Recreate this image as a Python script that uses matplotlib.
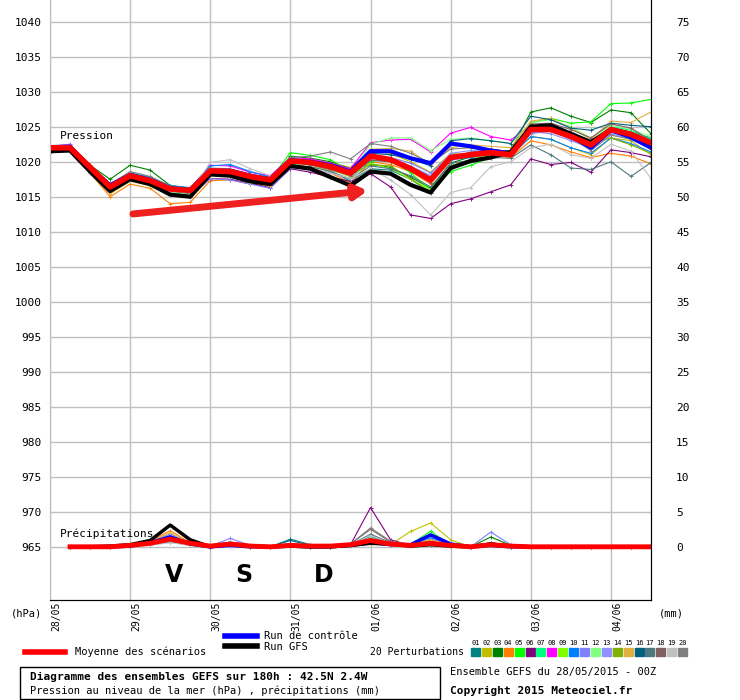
import matplotlib.pyplot as plt
import numpy as np
from matplotlib.patches import Rectangle

plt.rcParams['font.family'] = ['DejaVu Sans Mono']

hours = np.arange(0, 181, 6)
day_labels = ["28/05", "29/05", "30/05", "31/05", "01/06", "02/06", "03/06", "04/06"]
p_ticks = np.arange(965, 1041, 5)

mean_p = [1022.0,1022.0,1019.2,1016.4,1018.0,1017.3,1016.1,1015.9,1018.7,1018.6,1017.9,1017.4,1020.1,1019.9,1019.3,1018.4,
          1020.8,1020.3,1019.0,1017.4,1020.6,1021.0,1021.3,1021.0,1024.6,1024.6,1023.6,1022.4,1024.6,1023.9,1022.7]
control_p = [1022.0,1022.1,1019.2,1016.6,1018.1,1017.4,1016.2,1015.9,1018.7,1018.7,1018.0,1017.5,1020.2,1020.0,1019.5,1018.6,
             1021.5,1021.5,1020.5,1019.8,1022.6,1022.2,1021.6,1021.2,1024.8,1024.8,1023.7,1022.0,1024.5,1023.5,1022.0]
gfs_p = [1021.5,1021.6,1018.6,1015.8,1017.5,1016.8,1015.3,1015.0,1018.2,1018.0,1017.2,1016.8,1019.4,1019.0,1017.8,1016.6,
         1018.6,1018.3,1016.7,1015.6,1019.1,1020.1,1020.6,1021.4,1025.0,1025.2,1024.0,1022.8,1024.6,1024.0,1022.6]

pert_colors = ["#008080", "#c0c000", "#008000", "#ff8000", "#00ff00", "#800080", "#00ff80", "#ff00ff", "#80ff00", "#0080ff",
               "#8080ff", "#80ff80", "#9090ff", "#80b000", "#e0b040", "#006080", "#507880", "#806060", "#c0c0c0", "#808080"]

pert_p = [
    [1021.6,1021.9,1018.8,1016.0,1017.6,1017.0,1015.8,1015.4,1018.3,1018.2,1017.6,1017.0,1020.2,1019.6,1018.7,1017.2,1019.0,1018.8,1017.5,1015.6,1019.4,1020.3,1020.8,1021.0,1024.2,1024.6,1023.8,1022.8,1024.9,1024.2,1023.4],
    [1021.8,1022.2,1019.6,1016.6,1018.4,1017.6,1016.3,1016.0,1018.0,1018.0,1017.2,1016.8,1019.8,1020.2,1019.8,1019.2,1021.6,1021.2,1020.0,1018.5,1021.2,1021.0,1021.5,1021.2,1023.6,1023.2,1022.0,1021.0,1023.4,1023.0,1021.0],
    [1021.9,1022.3,1019.5,1017.5,1019.5,1018.8,1016.6,1016.2,1018.4,1018.5,1017.7,1017.2,1020.8,1020.5,1020.0,1019.0,1019.6,1019.2,1017.8,1016.2,1019.8,1020.7,1021.5,1021.6,1027.1,1027.7,1026.5,1025.6,1027.4,1027.0,1024.0],
    [1021.3,1021.6,1018.4,1015.0,1016.8,1016.2,1014.0,1014.2,1017.3,1017.4,1016.8,1016.6,1019.4,1019.0,1018.4,1017.0,1020.0,1019.6,1018.6,1016.8,1020.4,1021.2,1021.0,1020.6,1023.0,1022.4,1021.4,1020.6,1021.2,1020.8,1019.7],
    [1022.0,1022.3,1019.4,1016.6,1018.2,1017.4,1016.0,1015.9,1018.8,1018.8,1018.0,1017.5,1021.3,1020.9,1020.3,1018.6,1020.0,1020.5,1018.4,1016.0,1018.6,1019.5,1020.6,1021.0,1025.6,1026.2,1025.5,1025.7,1028.3,1028.4,1028.9],
    [1021.7,1021.9,1018.9,1016.0,1017.5,1016.8,1015.4,1015.1,1017.6,1017.5,1016.9,1016.3,1019.0,1018.5,1017.8,1017.2,1018.3,1016.4,1012.4,1011.9,1014.0,1014.7,1015.7,1016.7,1020.4,1019.6,1019.9,1018.5,1021.7,1021.3,1020.7],
    [1022.1,1022.0,1019.0,1016.2,1017.9,1017.2,1016.0,1015.6,1018.9,1018.6,1018.1,1017.8,1020.5,1020.2,1019.5,1018.6,1020.6,1020.0,1018.8,1017.2,1020.4,1021.4,1021.6,1021.3,1025.0,1025.2,1024.0,1023.0,1025.0,1024.5,1023.2],
    [1022.2,1022.5,1019.4,1016.5,1018.3,1017.7,1016.4,1016.1,1019.5,1019.4,1018.5,1018.0,1020.6,1020.4,1019.8,1019.0,1022.7,1023.1,1023.2,1021.4,1024.1,1024.9,1023.6,1023.1,1025.2,1025.0,1024.2,1022.0,1024.8,1024.0,1022.6],
    [1021.8,1022.0,1019.1,1016.4,1018.0,1017.2,1016.0,1015.8,1018.5,1018.4,1017.6,1017.2,1020.2,1019.8,1019.0,1017.8,1019.8,1019.0,1017.5,1016.0,1019.0,1020.4,1021.0,1021.0,1024.6,1024.4,1023.4,1022.2,1024.4,1023.5,1022.0],
    [1022.3,1022.4,1019.4,1016.9,1018.4,1017.8,1016.6,1016.3,1019.4,1019.6,1018.6,1017.8,1020.4,1020.0,1019.6,1018.7,1020.2,1020.1,1019.2,1018.0,1020.3,1020.6,1021.1,1020.8,1023.6,1023.2,1022.0,1021.2,1023.4,1022.6,1021.4],
    [1021.6,1021.7,1018.7,1015.9,1017.3,1016.7,1015.2,1015.0,1017.6,1017.4,1016.8,1016.2,1019.1,1019.0,1018.4,1017.6,1020.4,1020.6,1019.8,1018.4,1021.0,1021.0,1021.4,1021.2,1024.0,1024.4,1023.2,1021.8,1024.2,1023.6,1022.4],
    [1021.7,1021.8,1018.8,1016.1,1017.4,1016.8,1015.6,1015.3,1018.0,1017.9,1017.0,1016.9,1019.6,1019.5,1019.0,1018.2,1022.5,1023.4,1023.4,1021.6,1023.2,1023.4,1023.0,1022.6,1025.6,1026.0,1025.0,1023.4,1025.2,1024.6,1023.6],
    [1021.9,1022.1,1019.3,1016.7,1018.1,1017.5,1016.2,1015.7,1018.6,1018.5,1017.8,1017.3,1020.0,1019.7,1019.2,1018.2,1020.9,1020.5,1019.4,1018.0,1021.2,1021.6,1021.8,1021.4,1024.3,1024.0,1023.0,1022.0,1024.0,1023.2,1021.8],
    [1021.8,1022.0,1019.0,1016.2,1017.8,1017.1,1015.9,1015.6,1018.4,1018.3,1017.5,1017.0,1019.9,1019.7,1019.1,1018.1,1019.6,1019.4,1017.6,1015.6,1019.4,1020.3,1020.7,1020.9,1024.8,1025.0,1023.8,1022.6,1023.4,1022.4,1021.2],
    [1021.5,1021.8,1018.6,1015.4,1017.2,1016.6,1015.4,1015.2,1018.0,1018.0,1017.2,1016.6,1019.4,1019.3,1018.8,1017.9,1021.8,1021.9,1021.5,1019.6,1022.0,1022.4,1022.2,1022.0,1025.8,1026.2,1024.8,1023.2,1025.8,1025.6,1027.1],
    [1022.0,1022.2,1019.3,1016.5,1018.1,1017.4,1016.2,1015.9,1018.7,1018.8,1018.0,1017.6,1020.3,1020.0,1019.4,1018.4,1021.2,1021.0,1020.4,1019.4,1023.0,1023.3,1023.0,1022.6,1026.5,1026.0,1024.8,1024.5,1025.5,1025.2,1025.0],
    [1021.7,1021.9,1019.0,1016.3,1017.9,1017.2,1016.0,1015.6,1018.2,1018.0,1017.4,1016.9,1019.5,1019.3,1018.6,1017.5,1019.4,1019.0,1018.0,1016.4,1019.8,1020.2,1020.6,1020.5,1022.4,1021.0,1019.1,1018.9,1020.0,1017.9,1019.9],
    [1022.0,1022.1,1019.2,1016.3,1018.2,1017.5,1016.1,1015.8,1018.5,1018.2,1017.6,1017.2,1019.9,1019.6,1018.9,1018.0,1020.2,1020.0,1018.8,1017.0,1020.8,1021.3,1021.8,1021.4,1025.4,1025.5,1024.6,1023.4,1025.4,1024.8,1023.0],
    [1021.4,1021.6,1018.6,1016.0,1017.4,1017.0,1015.8,1015.6,1019.9,1020.3,1019.0,1018.0,1019.4,1019.0,1018.4,1017.6,1019.0,1017.4,1015.3,1012.4,1015.6,1016.3,1019.3,1020.0,1022.0,1022.5,1021.0,1020.5,1022.5,1021.5,1017.6],
    [1022.1,1022.3,1019.4,1016.8,1018.6,1017.9,1016.5,1016.1,1019.1,1019.0,1018.2,1017.6,1020.6,1020.8,1021.4,1020.4,1022.6,1022.2,1021.2,1019.8,1021.8,1022.0,1021.6,1021.4,1024.8,1024.6,1023.4,1021.6,1023.8,1023.2,1022.2],
]

# precipitation in mm, from t=6h
mean_r = [0,0,0,0.2,0.5,1.1,0.5,0.1,0.4,0.1,0,0.2,0.1,0.1,0.3,0.9,0.4,0.2,0.5,0.2,0,0.3,0.1,0,0,0,0,0,0,0]
control_r = [0,0,0,0.1,0.6,1.4,0.4,0,0.2,0,0,0.1,0,0,0.2,0.6,0.3,0.3,1.7,0.4,0,0.2,0,0,0,0,0,0,0,0]
gfs_r = [0,0,0.1,0.3,0.9,3.1,1.0,0,0.5,0.1,0,0.1,0,0,0.2,0.5,0.4,0.1,0.3,0.1,0,0.4,0.1,0,0,0,0,0,0,0]
pert_r = [
    [0,0,0,0.2,0.6,1.5,0.5,0,0.3,0,0,1.1,0.3,0,0.2,0.8,0.4,0.2,0.4,0.1,0,0.3,0,0,0,0,0,0,0,0],
    [0,0,0,0.1,0.3,0.8,0.3,0,0.2,0,0,0.1,0,0,0.1,0.4,0.3,2.2,3.4,1.0,0,0.2,0,0,0,0,0,0,0,0],
    [0,0,0,0.2,0.4,1.0,0.4,0,0.3,0,0,0.3,0.1,0,0.2,0.7,0.3,0.3,0.9,0.2,0,1.4,0.2,0,0,0,0,0,0,0],
    [0,0,0,0.3,0.8,2.3,0.6,0,0.2,0,0,0.1,0,0,0.2,0.6,0.2,0.2,0.5,0.1,0,0.2,0,0,0,0,0,0,0,0],
    [0,0,0,0.1,0.4,0.9,0.3,0,0.3,0,0,0.2,0.1,0,0.3,1.2,0.5,0.4,2.2,0.3,0,0.6,0.1,0,0,0,0,0,0,0],
    [0,0,0,0.2,0.5,1.0,0.4,0,0.2,0,0,0.5,0.1,0,0.3,5.6,1.0,0.2,0.3,0.1,0,0.2,0,0,0,0,0,0,0,0],
    [0,0,0,0.1,0.4,1.2,0.4,0,0.3,0,0,0.2,0.1,0,0.2,0.8,0.3,0.2,0.6,0.2,0,0.3,0,0,0,0,0,0,0,0],
    [0,0,0,0.2,0.5,1.3,0.5,0,0.3,0,0,0.2,0,0,0.2,0.9,0.4,0.3,1.0,0.2,0,0.4,0,0,0,0,0,0,0,0],
    [0,0,0,0.1,0.3,0.9,0.3,0,0.2,0,0,0.1,0,0,0.3,1.3,0.4,0.2,0.8,0.2,0,0.2,0,0,0,0,0,0,0,0],
    [0,0,0,0.2,0.6,1.6,0.5,0,0.4,0,0,0.3,0.1,0,0.3,1.5,0.5,0.3,1.3,0.3,0,0.4,0.1,0,0,0,0,0,0,0],
    [0,0,0,0.3,0.7,1.8,0.6,0.1,1.2,0.2,0,0.2,0.1,0,0.2,0.7,0.3,0.2,1.1,0.3,0,2.1,0.3,0,0,0,0,0,0,0],
    [0,0,0,0.1,0.3,0.8,0.3,0,0.2,0,0,0.2,0,0,0.2,0.6,0.4,0.3,0.5,0.1,0,0.3,0,0,0,0,0,0,0,0],
    [0,0,0,0.2,0.5,1.2,0.4,0,0.3,0,0,0.1,0,0,0.2,1.0,0.4,0.2,0.7,0.2,0,0.5,0,0,0,0,0,0,0,0],
    [0,0,0,0.2,0.4,1.1,0.4,0,0.2,0,0,0.2,0,0,0.2,0.6,0.3,0.2,0.8,0.2,0,0.3,0,0,0,0,0,0,0,0],
    [0,0,0,0.3,0.8,2.0,0.6,0,0.2,0,0,0.1,0,0,0.2,0.5,0.3,0.4,1.0,0.3,0,0.2,0,0,0,0,0,0,0,0],
    [0,0,0,0.2,0.5,1.4,0.5,0,0.3,0,0,0.9,0.2,0,0.3,1.1,0.4,0.2,0.6,0.2,0,0.6,0.1,0,0,0,0,0,0,0],
    [0,0,0,0.1,0.3,0.7,0.2,0,0.2,0,0,0.2,0,0,0.3,1.8,0.6,0.3,0.4,0.1,0,0.3,0,0,0,0,0,0,0,0],
    [0,0,0,0.2,0.4,1.0,0.3,0,0.2,0,0,0.2,0,0,0.4,2.5,0.7,0.2,0.5,0.1,0,0.4,0,0,0,0,0,0,0,0],
    [0,0,0,0.1,0.2,0.6,0.2,0,0.1,0,0,0.1,0,0,0.3,1.6,0.5,0.2,0.3,0.1,0,0.2,0,0,0,0,0,0,0,0],
    [0,0,0,0.2,0.5,1.3,0.5,0,0.3,0,0,0.2,0,0,0.4,2.7,0.8,0.3,0.5,0.1,0,0.3,0,0,0,0,0,0,0,0],
]

base = 965  # 0 mm sits on 965 hPa

fig = plt.figure(figsize=(7.4, 7.0), dpi=100)
ax = fig.add_axes([50/740, 1 - 600/700, 601/740, 600/700])
ax.set_xlim(0, 180)
ax.set_ylim(957.4, 1043.1)

for h in range(0, 180, 24):
    ax.axvline(h, color="#c0c0c0", lw=1, zorder=0)
for p in p_ticks:
    ax.axhline(p, color="#c0c0c0", lw=1, zorder=0)

rh = hours[1:]
for col, pp, rr in zip(pert_colors, pert_p, pert_r):
    ax.plot(hours, pp, color=col, lw=0.8, marker="+", ms=3, mew=0.6, zorder=2)
    ax.plot(rh, base + np.array(rr), color=col, lw=0.8, marker="+", ms=3, mew=0.6, zorder=2)

ax.plot(hours, control_p, color="blue", lw=3, zorder=3)
ax.plot(hours, gfs_p, color="black", lw=3, zorder=3)
ax.plot(hours, mean_p, color="#ff0000", lw=4, zorder=4)
ax.plot(rh, base + np.array(control_r), color="blue", lw=2.5, zorder=3)
ax.plot(rh, base + np.array(gfs_r), color="black", lw=2.5, zorder=3)
ax.plot(rh, base + np.array(mean_r), color="#ff0000", lw=3.5, zorder=4)

ax.annotate("", xy=(96, 1015.9), xytext=(24, 1012.5),
            arrowprops=dict(arrowstyle="-|>,head_length=0.7,head_width=0.4", color="#ee2020", lw=5), zorder=5)

ax.text(3, 1023.7, "Pression", fontsize=8, va="center")
ax.text(3, 966.9, "Précipitations", fontsize=8, va="center")
for lab, h in zip(["V", "S", "D"], [37, 58, 82]):
    ax.text(h, 961, lab, fontsize=17, fontweight="bold", family="DejaVu Sans", ha="center", va="center")

ax.set_yticks(p_ticks)
ax.set_yticklabels([str(p) for p in p_ticks], fontsize=8)
ax.set_xticks([])
ax.tick_params(axis="y", length=0, pad=6)
ax2 = ax.twinx()
ax2.set_ylim(ax.get_ylim())
ax2.set_yticks(p_ticks)
ax2.set_yticklabels([str(p - base) for p in p_ticks], fontsize=8)
ax2.tick_params(axis="y", length=0, pad=18)
for a in (ax, ax2):
    a.spines["top"].set_visible(False)
    a.spines["left"].set_color("#c0c0c0")
    a.spines["right"].set_color("black")
    a.spines["bottom"].set_color("black")

for i, lab in enumerate(day_labels):
    ax.text(i * 24 + 1.8, 957.1, lab, rotation=90, fontsize=7, ha="center", va="top")
ax.text(-7, 956.2, "(hPa)", fontsize=7.5, ha="center", va="top")
ax.text(186, 956.2, "(mm)", fontsize=7.5, ha="center", va="top")

# legend area
fig.lines.append(plt.Line2D([25/740, 65/740], [1 - 652/700] * 2, color="red", lw=4, transform=fig.transFigure))
fig.text(75/740, 1 - 652/700, "Moyenne des scénarios", fontsize=7.5, va="center")
fig.lines.append(plt.Line2D([225/740, 257/740], [1 - 636/700] * 2, color="blue", lw=4, transform=fig.transFigure))
fig.text(264/740, 1 - 636/700, "Run de contrôle", fontsize=7.5, va="center")
fig.lines.append(plt.Line2D([225/740, 257/740], [1 - 646/700] * 2, color="black", lw=4, transform=fig.transFigure))
fig.text(264/740, 1 - 647/700, "Run GFS", fontsize=7.5, va="center")
fig.text(370/740, 1 - 652/700, "20 Perturbations", fontsize=7, va="center")
for i, col in enumerate(pert_colors):
    x0 = 471 + i * 10.9
    fig.patches.append(Rectangle((x0/740, 1 - 656/700), 9/740, 8/700, color=col, transform=fig.transFigure))
    fig.text((x0 + 4.5)/740, 1 - 643/700, f"{i+1:02d}", fontsize=5, ha="center", va="center")

fig.patches.append(Rectangle((20/740, 1 - 699/700), 420/740, 32/700, fill=False, ec="black", lw=1,
                             transform=fig.transFigure))
fig.text(30/740, 1 - 677/700, "Diagramme des ensembles GEFS sur 180h : 42.5N 2.4W", fontsize=8,
         fontweight="bold", va="center")
fig.text(30/740, 1 - 691/700, "Pression au niveau de la mer (hPa) , précipitations (mm)", fontsize=7.5, va="center")
fig.text(450/740, 1 - 672/700, "Ensemble GEFS du 28/05/2015 - 00Z", fontsize=7.5, va="center")
fig.text(450/740, 1 - 691/700, "Copyright 2015 Meteociel.fr", fontsize=8, fontweight="bold", va="center")

fig.savefig("out.png", dpi=100)
